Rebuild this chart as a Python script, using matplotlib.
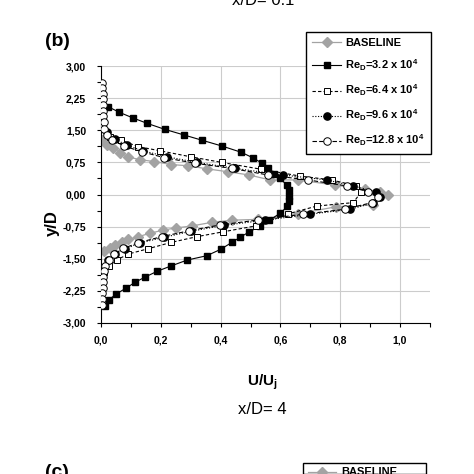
import matplotlib
matplotlib.use("Agg")
import matplotlib.pyplot as plt
from matplotlib.ticker import MultipleLocator, FuncFormatter
from matplotlib.patches import Rectangle
from matplotlib.lines import Line2D

plt.rcParams['font.family'] = ['Liberation Sans', 'DejaVu Sans']
plt.rcParams['mathtext.fontset'] = 'custom'
plt.rcParams['mathtext.rm'] = 'Liberation Sans:bold'
plt.rcParams['mathtext.bf'] = 'Liberation Sans:bold'

# ---- data (U/Uj vs y/D), top to bottom ----
base_u = [0.002, 0.018, 0.040, 0.063, 0.090, 0.130, 0.178, 0.233, 0.292, 0.353,
          0.425, 0.496, 0.565, 0.660, 0.783, 0.883, 0.934, 0.962, 0.910, 0.788,
          0.660, 0.526, 0.437, 0.370, 0.303, 0.250, 0.208, 0.163, 0.124, 0.090,
          0.068, 0.046, 0.029, 0.010]
base_y = [1.27, 1.16, 1.08, 0.98, 0.88, 0.81, 0.77, 0.70, 0.67, 0.60,
          0.53, 0.455, 0.34, 0.34, 0.22, 0.12, 0.06, 0.00, -0.245, -0.285,
          -0.45, -0.58, -0.60, -0.65, -0.735, -0.78, -0.83, -0.905, -0.985, -1.05,
          -1.10, -1.18, -1.26, -1.33]

re32_u = [0.023, 0.060, 0.105, 0.154, 0.213, 0.277, 0.336, 0.405, 0.469, 0.507,
          0.539, 0.559, 0.580, 0.599, 0.621, 0.628, 0.630, 0.630, 0.623, 0.599,
          0.563, 0.532, 0.496, 0.465, 0.437, 0.400, 0.353, 0.288, 0.233, 0.188,
          0.146, 0.113, 0.082, 0.048, 0.026, 0.012]
re32_y = [2.05, 1.92, 1.79, 1.66, 1.52, 1.39, 1.27, 1.13, 0.985, 0.86,
          0.73, 0.61, 0.49, 0.38, 0.22, 0.10, -0.03, -0.15, -0.28, -0.44,
          -0.60, -0.74, -0.87, -1.00, -1.12, -1.28, -1.43, -1.53, -1.67, -1.79,
          -1.93, -2.05, -2.19, -2.33, -2.46, -2.60]

re64_u = [0.003, 0.029, 0.066, 0.122, 0.197, 0.300, 0.403, 0.535, 0.666, 0.772,
          0.855, 0.870, 0.844, 0.722, 0.627, 0.520, 0.409, 0.320, 0.233, 0.155,
          0.090, 0.052, 0.026, 0.010]
re64_y = [1.58, 1.35, 1.27, 1.12, 1.02, 0.88, 0.75, 0.59, 0.43, 0.34,
          0.20, 0.05, -0.19, -0.27, -0.45, -0.73, -0.87, -0.985, -1.12, -1.27,
          -1.39, -1.53, -1.67, -1.80]

re96_u = [0.020, 0.045, 0.085, 0.140, 0.220, 0.320, 0.448, 0.610, 0.755, 0.844,
          0.920, 0.934, 0.910, 0.833, 0.700, 0.550, 0.410, 0.300, 0.210, 0.130,
          0.080, 0.045, 0.021]
re96_y = [1.45, 1.30, 1.15, 1.02, 0.88, 0.75, 0.61, 0.455, 0.34, 0.20,
          0.06, -0.07, -0.20, -0.345, -0.46, -0.60, -0.72, -0.86, -1.00, -1.13,
          -1.27, -1.40, -1.53]

re128_u = [0.004, 0.004, 0.005, 0.005, 0.006, 0.006, 0.007, 0.008, 0.010, 0.018,
           0.037, 0.077, 0.135, 0.211, 0.314, 0.437, 0.559, 0.693, 0.822, 0.894,
           0.928, 0.906, 0.816, 0.677, 0.526, 0.398, 0.295, 0.202, 0.124, 0.074,
           0.043, 0.026, 0.012, 0.008, 0.006, 0.005, 0.005, 0.004, 0.004, 0.004]
re128_y = [2.61, 2.48, 2.35, 2.22, 2.09, 1.96, 1.83, 1.70, 1.53, 1.39,
           1.27, 1.13, 1.00, 0.86, 0.73, 0.61, 0.455, 0.34, 0.20, 0.065,
           -0.05, -0.19, -0.345, -0.46, -0.595, -0.71, -0.845, -0.985, -1.125, -1.26,
           -1.39, -1.53, -1.66, -1.79, -1.92, -2.05, -2.18, -2.31, -2.45, -2.58]

labels = ['BASELINE',
          r'Re$_\mathrm{D}$=3.2 x 10$^\mathrm{4}$',
          r'Re$_\mathrm{D}$=6.4 x 10$^\mathrm{4}$',
          r'Re$_\mathrm{D}$=9.6 x 10$^\mathrm{4}$',
          r'Re$_\mathrm{D}$=12.8 x 10$^\mathrm{4}$']

fig = plt.figure(figsize=(4.74, 4.74), dpi=100)
W = H = 474.0
ax = fig.add_axes([101.3 / W, 1 - 323 / H, 328.3 / W, 257 / H])

gray = '#a3a3a3'
ax.plot(base_u, base_y, color=gray, lw=0.9, marker='D', ms=4.6,
        mfc=gray, mec=gray, label=labels[0], zorder=2)
ax.plot(re32_u, re32_y, color='black', lw=0.8, marker='s', ms=4.6,
        mfc='black', mec='black', label=labels[1], zorder=3)
ax.plot(re64_u, re64_y, color='black', lw=0.8, ls=(0, (3, 2)), marker='s', ms=4.6,
        mfc='white', mec='black', mew=0.7, label=labels[2], zorder=3)
ax.plot(re96_u, re96_y, color='black', lw=0.8, ls=(0, (1, 1.5)), marker='o', ms=5.2,
        mfc='black', mec='black', label=labels[3], zorder=4)
ax.plot(re128_u, re128_y, color='black', lw=0.8, ls=(0, (4, 2)), marker='o', ms=5.4,
        mfc='white', mec='black', mew=0.7, label=labels[4], zorder=5)

ax.set_xlim(0, 1.1)
ax.set_ylim(-3, 3)
ax.xaxis.set_major_locator(MultipleLocator(0.2))
ax.xaxis.set_minor_locator(MultipleLocator(0.1))
ax.yaxis.set_major_locator(MultipleLocator(0.75))
ax.yaxis.set_minor_locator(MultipleLocator(0.375))
ax.xaxis.set_major_formatter(FuncFormatter(lambda v, p: f'{v:.1f}'.replace('.', ',')))
ax.yaxis.set_major_formatter(FuncFormatter(lambda v, p: f'{v:.2f}'.replace('.', ',')))
ax.tick_params(which='both', direction='out', length=3, width=0.8)
ax.tick_params(axis='y', pad=8)
ax.tick_params(axis='x', pad=6)
for t in ax.get_xticklabels() + ax.get_yticklabels():
    t.set_fontweight('bold')
    t.set_fontsize(7.5)
ax.grid(True, which='major', color='#cccccc', lw=0.8)
ax.set_axisbelow(True)
for s in ['top', 'right']:
    ax.spines[s].set_visible(False)
for s in ['left', 'bottom']:
    ax.spines[s].set_linewidth(0.8)

# legend box pinned to the figure, overlapping the top right of the axes
leg = ax.legend(loc='upper left', bbox_to_anchor=(306 / W, 1 - 32 / H),
                bbox_transform=fig.transFigure, frameon=True, fancybox=False,
                edgecolor='black', framealpha=1, borderpad=0.55, borderaxespad=0,
                handlelength=2.6, handletextpad=0.4, labelspacing=0.85,
                prop={'weight': 'bold', 'size': 8})
leg.get_frame().set_linewidth(1.0)
leg.set_zorder(10)

# axis texts
fig.text(52 / W, 1 - 223 / H, 'y/D', rotation=90, ha='center', va='center',
         fontsize=12, fontweight='bold')
fig.text(262 / W, 1 - 382 / H, r'U/U$_\mathrm{j}$', ha='center', va='center',
         fontsize=11, fontweight='bold')
fig.text(262 / W, 1 - 409.5 / H, 'x/D= 4', ha='center', va='center', fontsize=12)
fig.text(57 / W, 1 - 42 / H, '(b)', ha='center', va='center',
         fontsize=14, fontweight='bold')

# cut-off pieces of the neighbouring panels
fig.text(263 / W, 1 - 5 / H, 'x/D= 0.1', ha='center', va='baseline', fontsize=12)
fig.text(57 / W, 1 - 464 / H, '(c)', ha='center', va='top',
         fontsize=14, fontweight='bold')
fig.patches.append(Rectangle((303 / W, 0), 123 / W, 1 - 463 / H,
                             transform=fig.transFigure, fill=False,
                             edgecolor='black', lw=1.0))
fig.lines.append(Line2D([308 / W, 336 / W], [1 - 472 / H, 1 - 472 / H],
                        transform=fig.transFigure, color=gray, lw=0.9))
fig.lines.append(Line2D([322 / W], [1 - 472 / H], transform=fig.transFigure,
                        color=gray, marker='D', ms=4.6, ls='none'))
fig.text(341 / W, 1 - 467 / H, 'BASELINE', ha='left', va='top',
         fontsize=8, fontweight='bold')

fig.savefig('out.png', dpi=100)
